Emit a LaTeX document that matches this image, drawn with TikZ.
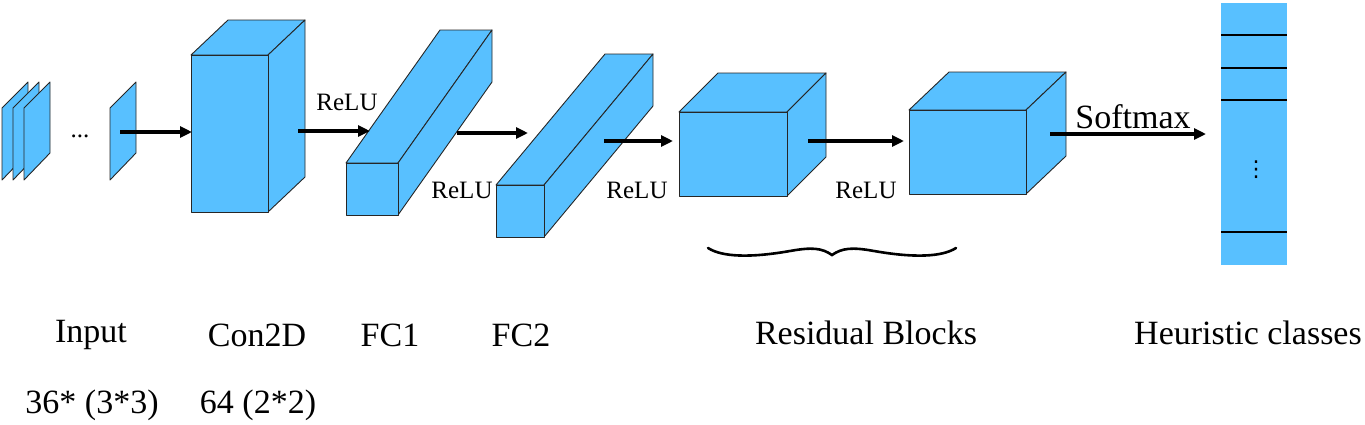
\documentclass[tikz,border=0pt]{standalone}
\usepackage{fontspec}
\setmainfont{Liberation Serif}
\newfontfamily\dvfont{DejaVu Sans}
\usetikzlibrary{arrows.meta}
\definecolor{cub}{HTML}{58C0FF}
\tikzset{
 face/.style={fill=cub,draw=black!85,line width=0.9pt,line join=round},
 arr/.style={-{Triangle[length=12pt,width=11pt]},line width=3.6pt},
 lab/.style={font=\fontsize{25}{25}\selectfont,inner sep=0pt},
 big/.style={font=\fontsize{34}{34}\selectfont,inner sep=0pt}
}
\newcommand{\mybox}[6]{%
 \draw[face] (#1,#2) -- ++(#5,#6) -- (#3+#5,#2+#6) -- (#3,#2) -- cycle;
 \draw[face] (#3,#2) -- (#3+#5,#2+#6) -- (#3+#5,#4+#6) -- (#3,#4) -- cycle;
 \draw[face] (#1,#2) rectangle (#3,#4);}
\newcommand{\mysheet}[1]{%
 \draw[face] (#1,108) -- (#1+26,82) -- (#1+26,153) -- (#1,180) -- cycle;}
\begin{document}
\begin{tikzpicture}[x=1pt,y=-1pt]
\useasboundingbox (0,0) rectangle (1365,424);
\mysheet{2}\mysheet{13}\mysheet{24}
\node[lab] (dots) at (80,136) {...};
\mysheet{110}
\coordinate (s) at (120,132);
\mybox{191}{55}{268}{212}{37}{-35}
\coordinate (c2in) at (192,132);
\coordinate (c2out) at (298,131);
\mybox{346}{163}{398}{215}{94}{-133}
\coordinate (f1in) at (370,131);
\coordinate (f1out) at (457,133);
\mybox{496}{185}{544}{237}{109}{-131}
\coordinate (f2in) at (528,133);
\coordinate (f2out) at (604,141);
\mybox{679}{112}{787}{196}{39}{-39}
\coordinate (r1in) at (673,141);
\coordinate (r1out) at (808,141);
\mybox{909}{110}{1026}{194}{40}{-38}
\coordinate (r2in) at (904,141);
\coordinate (r2out) at (1050,134);
\fill[cub] (1221,3) rectangle (1287,265);
\coordinate (hin) at (1206,134);
\foreach \y in {35,68,100,232} \draw[line width=1.2pt] (1221,\y) -- (1287,\y);
\node[font=\dvfont\fontsize{22}{22}\selectfont,inner sep=0pt] (vd) at (1256,170) {⋮};
\draw[arr] (s) -- (c2in);
\draw[arr] (c2out) -- (f1in);
\draw[arr] (f1out) -- (f2in);
\draw[arr] (f2out) -- (r1in);
\draw[arr] (r1out) -- (r2in);
\draw[arr] (r2out) -- (hin);
\node[lab] (l1) at (347,102) {ReLU};
\node[lab] (l2) at (462,190) {ReLU};
\node[lab] (l3) at (637,190) {ReLU};
\node[lab] (l4) at (866,190) {ReLU};
\node[big] (sm) at (1133,117) {Softmax};
\draw[line width=2.6pt,line cap=round] (708,248) .. controls (722,257) and (750,258) .. (790,251) .. controls (812,247) and (822,248) .. (832,255) .. controls (842,248) and (852,247) .. (874,251) .. controls (914,258) and (942,257) .. (956,248);
\node[big] (t1) at (91,335) {Input};
\node[big] (t2) at (257,335) {Con2D};
\node[big] (t3) at (390,335) {FC1};
\node[big] (t4) at (521,335) {FC2};
\node[big] (t5) at (866,333) {Residual Blocks};
\node[big] (t6) at (1248,333) {Heuristic classes};
\node[big] (u1) at (92,405) {36* (3*3)};
\node[big] (u2) at (258,405) {64 (2*2)};
\end{tikzpicture}
\end{document}
